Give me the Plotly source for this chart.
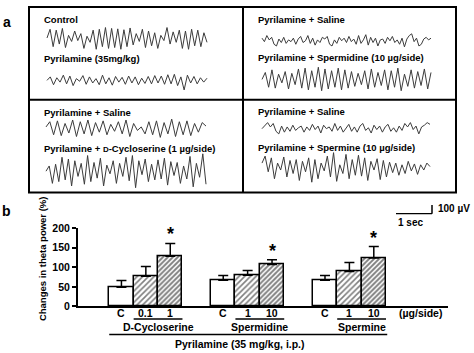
import plotly.graph_objects as go

# ---------------- data ----------------
# Panel a: EEG samples (µV, alternating peaks/troughs)
ctrl_uv = [10, 110, -90, 100, -60, 120, -100, 40, -30, 90, -20, 60, -110, 30, -40, 100, -120, 110, -90, 130,
           -110, 120, -100, 115, -120, 105, -90, 125, -70, 60, -30, 110, -100, 90, -80, 70, -110, 40, -20, 130,
           -60, 80, -40, 100, -110, 90, -120, 110, -80, 100, -90, 70, -40]
pyr_uv = [0, 40, -50, 30, -20, 60, -40, 50, -60, 20, -10, 55, -45, 40, -30, 20, -50, 60, -40, 30, -55, 45, -20,
          35, -45, 50, -30, 40, -50, 25, -35, 45, -40, 55, -30, 50, -45, 65, -40, 70, -60, 40, -110, 60, -30, 45,
          -40, 30, -20, 25]
sal_spd_uv = [30, -10, 60, 10, 40, -40, -60, 20, -20, 40, -30, 10, -10, 30, -40, 20, 50, -20, 0, 60, -30, 30, -50,
              10, -20, 40, 20, 50, -40, -60, 10, -30, 40, 0, 30, -20, 50, -10, 20, -40, 60, -30, 10, 70, -50, 40,
              -20, 30, -60, 10, 20, -30, 40, 0, 50, -20, 10, -40, 30, -70, 20, 60, 80, -10, 30, -60, -40, 20, 40,
              10, 30]
spd_uv = [0, 80, -90, 110, -100, 60, -40, 90, -110, 70, -60, 120, -100, 130, -120, 100, -90, 140, -130, 120, -110,
          100, -90, 130, -120, 110, -100, 90, -80, 70, -60, 100, -110, 120, -90, 80, -70, 110, -120, 100, -90, 130,
          -130, 60, -80, 110, -100, 90, -70, 120, -110, 80]
sal_dcs_uv = [20, 80, -70, 90, -80, 60, -50, 100, -90, 80, -60, 100, -80, 70, -40, 90, -70, 50, -30, 80, -60, 100,
              -90, 60, -20, 20, -60, 80, -70, 90, -100, 70, -60, 110, -90, 80, -70, 90, -80, 60, -40, 70, 30]
dcs_uv = [0, 60, -140, 80, -120, 160, -100, 140, -170, 120, -60, 90, -150, 180, -120, 100, -80, 150, -170, 70, -30,
          120, -140, 90, -60, 160, -110, 180, -190, 120, -40, 140, -120, 80, -100, 130, -90, 150, -160, 110, -50,
          100, -140, 60, -90, 170, -180, 90, -70, 200, -150]
sal_spm_uv = [0, 40, 70, 20, 60, -30, -60, 30, -40, 20, -30, 40, -20, 10, 30, -40, 20, -20, 50, -10, 30, -50, 40, 0,
              20, -30, 60, -20, 30, -40, 10, 50, -30, 20, -40, 30, 60, -20, 10, -50, 40, -10, 30, -40, 20, 50, -30,
              10, -40, 30, -20, 60, 20, 70, -10, 30, -60, 20, 40, 70, 50]
spm_uv = [60, 140, -40, 120, -120, 60, -20, 130, -100, 90, -60, 100, -140, 80, -40, 120, -160, 100, -120, 60, -30,
          140, -100, 180, -150, 40, -60, 160, -120, 100, -80, 150, -90, 120, -140, 80, -20, 110, -130, 90, -100, 70,
          -50, 60, -80, 40, -60, 80, -30, 50, -70, 40, -20, 60, 20]

trace_labels = ["Control", "Pyrilamine (35mg/kg)",
                "Pyrilamine + Saline", "Pyrilamine + Spermidine (10 µg/side)",
                "Pyrilamine + Saline", "Pyrilamine + <span style='font-size:8px'>D</span>-Cycloserine (1 µg/side)",
                "Pyrilamine + Saline", "Pyrilamine + Spermine (10 µg/side)"]

# Panel b: bar chart
groups = ["D-Cycloserine", "Spermidine", "Spermine"]
doses = [["C", "0.1", "1"], ["C", "1", "10"], ["C", "1", "10"]]
means = [[49, 77, 128], [67, 80, 107], [67, 89, 124]]
sems = [[17, 25, 33], [12, 12, 12], [12, 23, 29]]
signif = [[False, False, True], [False, False, True], [False, False, True]]
y_ticks = [0, 50, 100, 150, 200]

# ---------------- layout helpers ----------------
W, H = 474, 353
FONT = "Liberation Sans"
PX_PER_UV = 0.09

fig = go.Figure()

# EEG traces on a pixel-space overlay axis
trace_pos = [(47, 207, 34), (47, 207, 77), (262, 431, 36), (262, 431, 76),
             (46, 206, 127), (46, 206, 171), (262, 430, 127), (262, 430, 168)]
label_pos = [(42, 14), (42, 54), (256, 14), (256, 53), (42, 110), (42, 147), (256, 109), (256, 146)]
all_traces = [ctrl_uv, pyr_uv, sal_spd_uv, spd_uv, sal_dcs_uv, dcs_uv, sal_spm_uv, spm_uv]

annotations = []
shapes = []
for vals, (x0, x1, yc), txt, (lx, ly) in zip(all_traces, trace_pos, trace_labels, label_pos):
    n = len(vals)
    xs = [x0 + i * (x1 - x0) / (n - 1) for i in range(n)]
    ys = [yc - v * PX_PER_UV for v in vals]
    fig.add_trace(go.Scatter(x=xs, y=ys, mode="lines", xaxis="x2", yaxis="y2",
                             line=dict(color="#3c3c3c", width=1), showlegend=False, hoverinfo="skip"))
    annotations.append(dict(x=lx, y=ly, xref="x2", yref="y2", text="<b>" + txt + "</b>", showarrow=False,
                            xanchor="left", yanchor="middle", font=dict(family=FONT, size=9.5, color="black")))

# panel a frame
shapes += [
    dict(type="rect", xref="x2", yref="y2", x0=29, y0=1, x1=456, y1=193, line=dict(color="black", width=2)),
    dict(type="line", xref="x2", yref="y2", x0=243, y0=1, x1=243, y1=193, line=dict(color="black", width=2)),
    dict(type="line", xref="x2", yref="y2", x0=29, y0=97, x1=456, y1=97, line=dict(color="black", width=2)),
]

# ---------------- bars ----------------
unit_start, group_step = 1.78, 4.17
xpos = [[unit_start + g * group_step + j for j in range(3)] for g in range(len(groups))]

styles = [dict(color="white", pattern=None),
          dict(color="white", pattern=dict(shape="/", fgcolor="black", bgcolor="white", size=4, solidity=0.4)),
          dict(color="white", pattern=dict(shape="/", fgcolor="black", bgcolor="white", size=3.5, solidity=0.55))]
for j in range(3):
    st = styles[j]
    marker = dict(color=st["color"], line=dict(color="black", width=1.5))
    if st["pattern"]:
        marker["pattern"] = st["pattern"]
    fig.add_trace(go.Bar(
        x=[xpos[g][j] for g in range(len(groups))],
        y=[means[g][j] for g in range(len(groups))],
        width=1, marker=marker, showlegend=False, hoverinfo="skip",
        error_y=dict(type="data", symmetric=False, array=[sems[g][j] for g in range(len(groups))],
                     arrayminus=[0] * len(groups), color="black", thickness=1.5, width=5),
    ))

for g in range(len(groups)):
    for j in range(3):
        annotations.append(dict(x=xpos[g][j], y=318, xref="x", yref="y2", text="<b>" + doses[g][j] + "</b>",
                                showarrow=False, font=dict(family=FONT, size=10.5, color="black")))
        if signif[g][j]:
            annotations.append(dict(x=xpos[g][j], y=means[g][j] + sems[g][j], xref="x", yref="y",
                                    text="<b>*</b>", showarrow=False, yanchor="bottom", yshift=-3,
                                    font=dict(family=FONT, size=18, color="black")))
    annotations.append(dict(x=xpos[g][1] + 0.5, y=332, xref="x", yref="y2", text="<b>" + groups[g] + "</b>",
                            showarrow=False, font=dict(family=FONT, size=10.5, color="black")))
    shapes.append(dict(type="line", xref="x", yref="y2", x0=xpos[g][1] - 0.5, x1=xpos[g][2] + 0.5,
                       y0=324, y1=324, line=dict(color="black", width=1.5)))

shapes.append(dict(type="line", xref="x", yref="y2", x0=xpos[0][0] - 0.5, x1=xpos[-1][2] + 0.55,
                   y0=340, y1=340, line=dict(color="black", width=1.5)))
annotations += [
    dict(x=397, y=318, xref="x2", yref="y2", text="<b>(µg/side)</b>", showarrow=False, xanchor="left",
         font=dict(family=FONT, size=10.5, color="black")),
    dict(x=240, y=350, xref="x2", yref="y2", text="<b>Pyrilamine (35 mg/kg, i.p.)</b>", showarrow=False,
         font=dict(family=FONT, size=10.5, color="black")),
    dict(x=42, y=262, xref="x2", yref="y2", text="<b>Changes in theta power (%)</b>", showarrow=False,
         textangle=-90, font=dict(family=FONT, size=9.5, color="black")),
    dict(x=1, y=17, xref="x2", yref="y2", text="<b>a</b>", showarrow=False, xanchor="left",
         font=dict(family=FONT, size=14, color="black")),
    dict(x=0, y=212, xref="x2", yref="y2", text="<b>b</b>", showarrow=False, xanchor="left",
         font=dict(family=FONT, size=14, color="black")),
    dict(x=436, y=210, xref="x2", yref="y2", text="<b>100 µV</b>", showarrow=False, xanchor="left",
         font=dict(family=FONT, size=10, color="black")),
    dict(x=410, y=224, xref="x2", yref="y2", text="<b>1 sec</b>", showarrow=False,
         font=dict(family=FONT, size=10, color="black")),
]
# scale bar
shapes += [
    dict(type="line", xref="x2", yref="y2", x0=396, x1=432, y0=215, y1=215, line=dict(color="black", width=1.2)),
    dict(type="line", xref="x2", yref="y2", x0=432, x1=432, y0=206, y1=215, line=dict(color="black", width=1.5)),
]

fig.update_layout(
    width=W, height=H, margin=dict(l=0, r=0, t=0, b=0),
    paper_bgcolor="white", plot_bgcolor="rgba(0,0,0,0)",
    bargap=0, barmode="overlay",
    xaxis=dict(domain=[78 / W, 448 / W], range=[0, 15.16], showline=True, linecolor="black", linewidth=2,
               showticklabels=False, ticks="", showgrid=False, zeroline=False, anchor="y"),
    yaxis=dict(domain=[1 - 311 / H, 1 - 230 / H], range=[0, 200], tickvals=y_ticks,
               ticktext=["<b>%d</b>" % v for v in y_ticks], showline=True, linecolor="black", linewidth=2,
               ticks="outside", ticklen=4, tickwidth=2, tickcolor="black", showgrid=False, zeroline=False,
               tickfont=dict(family=FONT, size=10.5, color="black"), anchor="x"),
    xaxis2=dict(domain=[0, 1], range=[0, W], visible=False, anchor="y2"),
    yaxis2=dict(domain=[0, 1], range=[H, 0], visible=False, anchor="x2"),
    annotations=annotations, shapes=shapes,
)

fig.write_html("out.html")
